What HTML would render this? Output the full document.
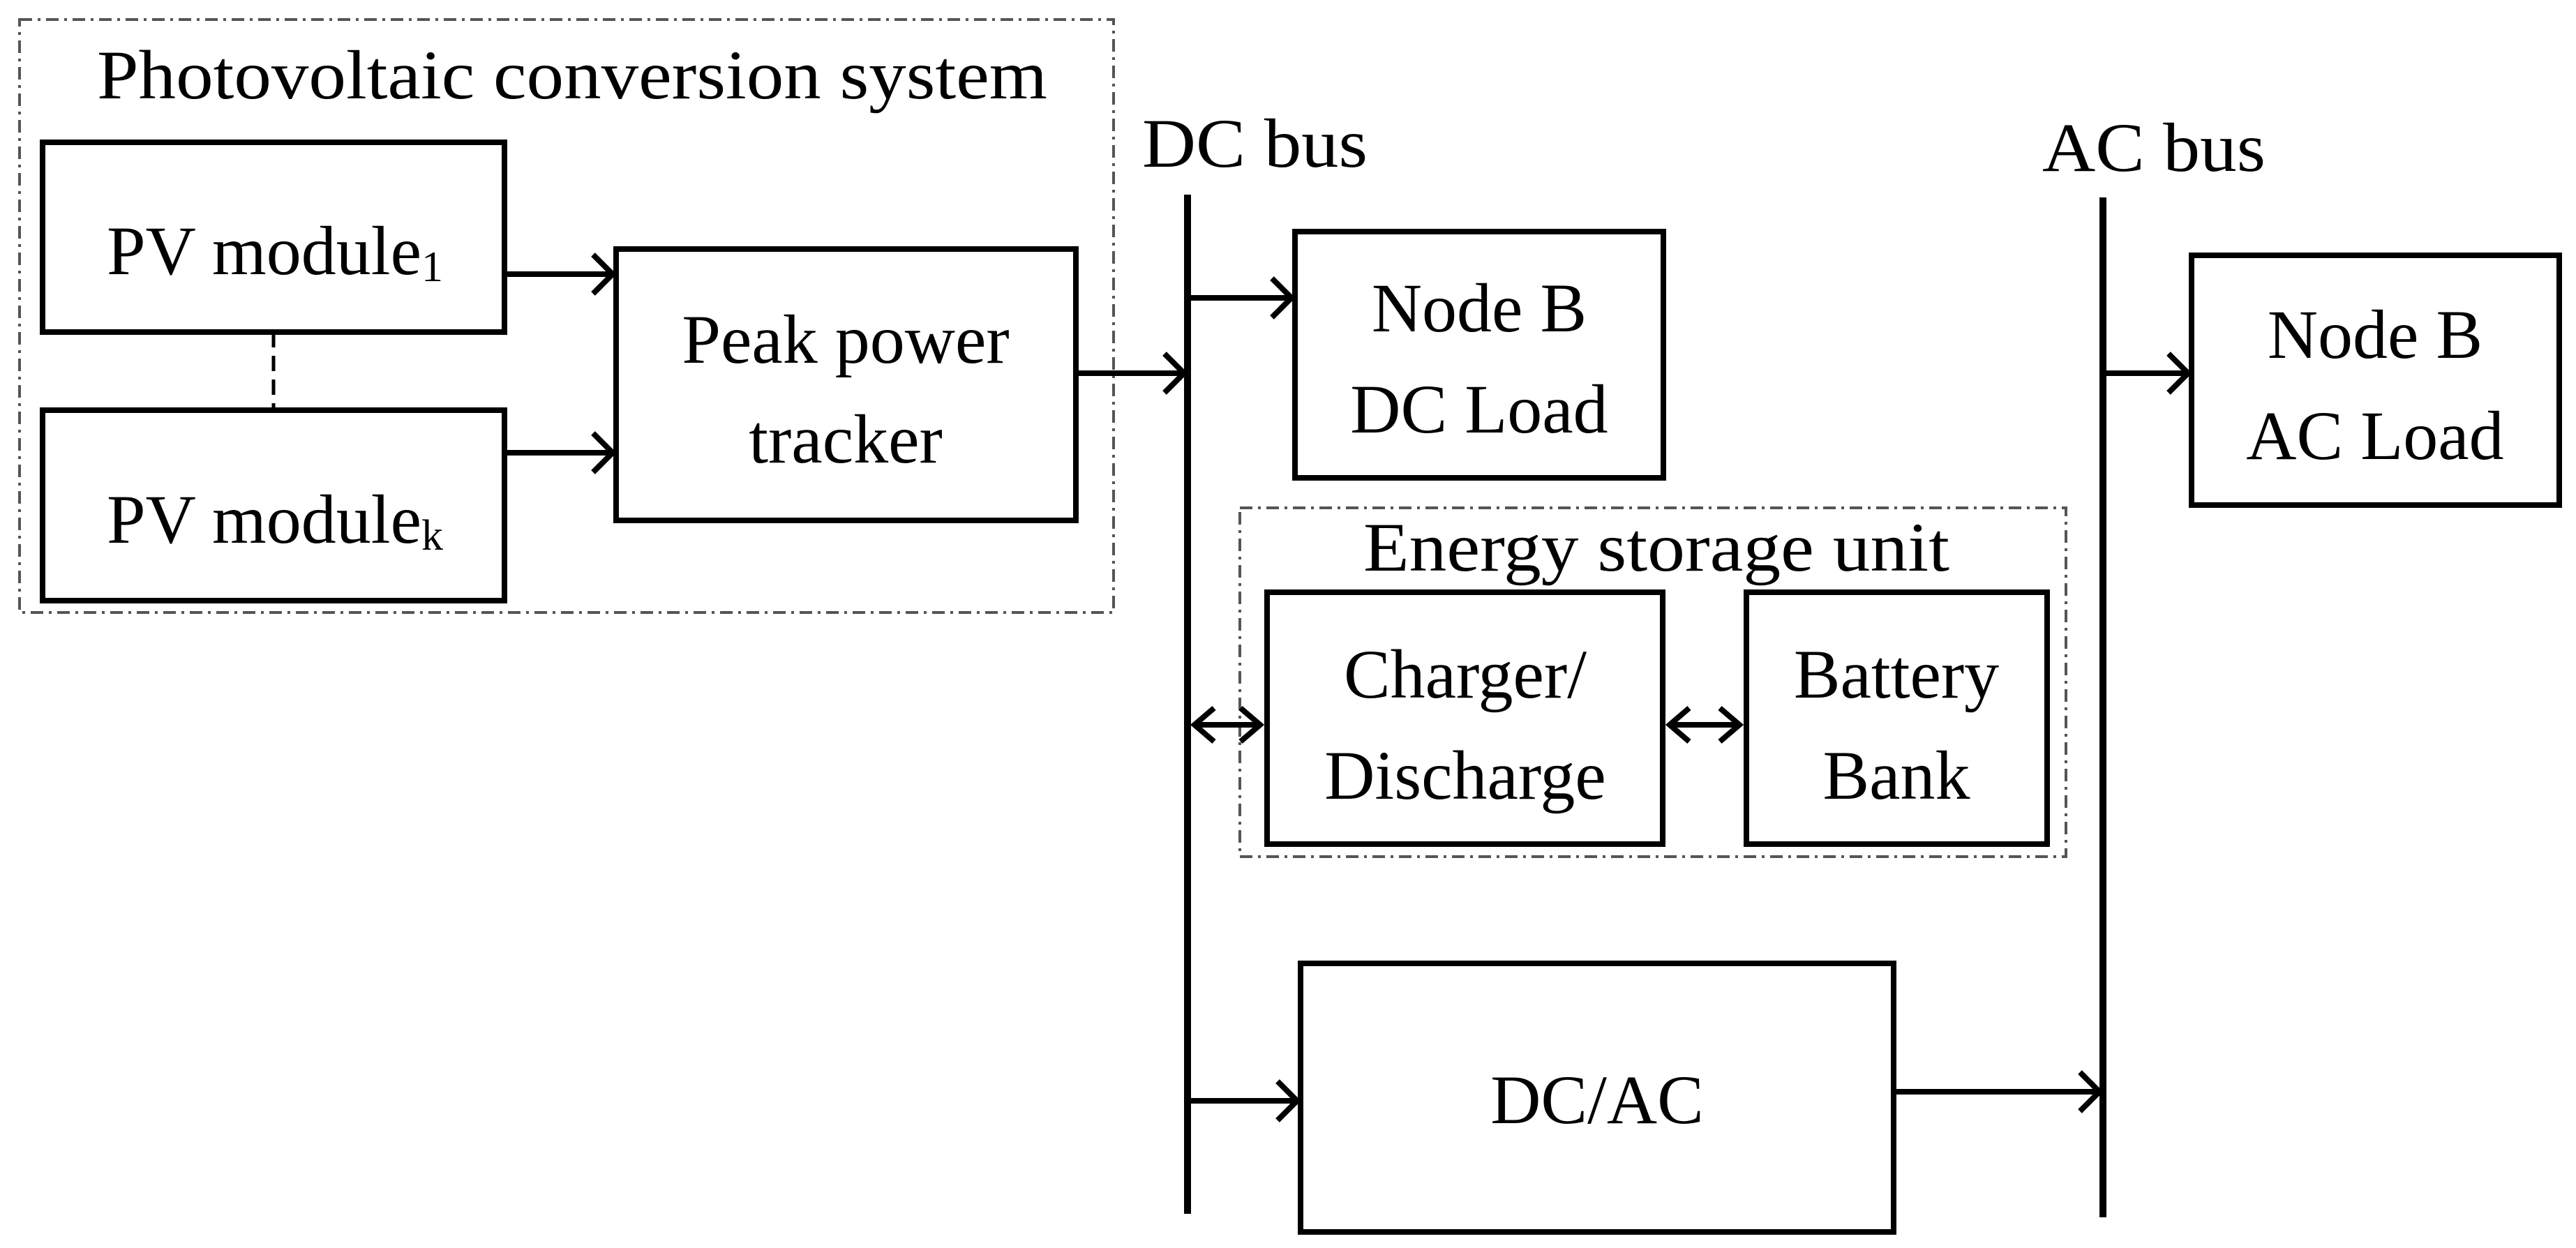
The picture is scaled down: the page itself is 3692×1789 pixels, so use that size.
<!DOCTYPE html>
<html><head><style>html,body{margin:0;padding:0;background:#fff}svg{display:block}</style></head>
<body>
<svg width="3692" height="1789" viewBox="0 0 3692 1789" xmlns="http://www.w3.org/2000/svg" font-family="'Liberation Serif', serif" font-size="100" fill="#000">
<g fill="none" stroke="#555" stroke-width="4" stroke-dasharray="18 8 4 8">
<rect x="28" y="28" width="1568" height="850"/>
<rect x="1777" y="728" width="1184" height="500"/>
</g>
<g fill="none" stroke="#000" stroke-width="8">
<rect x="61" y="204" width="662" height="272"/>
<rect x="61" y="588" width="662" height="273"/>
<rect x="883" y="357" width="659" height="389"/>
<rect x="1856" y="332" width="528" height="353"/>
<rect x="3141" y="366" width="527" height="358"/>
<rect x="1816" y="849" width="567" height="361"/>
<rect x="2503" y="849" width="431" height="361"/>
<rect x="1864" y="1381" width="850" height="385"/>
</g>
<line x1="392" y1="476" x2="392" y2="588" stroke="#000" stroke-width="5" stroke-dasharray="22 12"/>
<g stroke="#000" stroke-width="10">
<line x1="1702" y1="279" x2="1702" y2="1740"/>
<line x1="3014" y1="283" x2="3014" y2="1745"/>
</g>
<g stroke="#000" stroke-width="8" fill="none">
<line x1="727" y1="393" x2="878" y2="393"/>
<line x1="727" y1="649" x2="878" y2="649"/>
<line x1="1546" y1="535" x2="1697" y2="535"/>
<line x1="1707" y1="427" x2="1851" y2="427"/>
<line x1="3019" y1="535" x2="3136" y2="535"/>
<line x1="1707" y1="1578" x2="1859" y2="1578"/>
<line x1="2718" y1="1565" x2="3009" y2="1565"/>
<line x1="1712" y1="1039" x2="1806" y2="1039"/>
<line x1="2393" y1="1039" x2="2493" y2="1039"/>
</g>
<g stroke="#000" stroke-width="8" fill="none">
<path d="M850 365 L878 393 L850 421"/>
<path d="M850 621 L878 649 L850 677"/>
<path d="M1669 507 L1697 535 L1669 563"/>
<path d="M1823 399 L1851 427 L1823 455"/>
<path d="M3108 507 L3136 535 L3108 563"/>
<path d="M1831 1550 L1859 1578 L1831 1606"/>
<path d="M2981 1537 L3009 1565 L2981 1593"/>
<path d="M1778 1015 L1806 1039 L1778 1063"/>
<path d="M1740 1015 L1712 1039 L1740 1063"/>
<path d="M2465 1015 L2493 1039 L2465 1063"/>
<path d="M2421 1015 L2393 1039 L2421 1063"/>
</g>
<text x="139" y="141" textLength="1362" lengthAdjust="spacingAndGlyphs">Photovoltaic conversion system</text>
<text x="1637" y="239" textLength="323" lengthAdjust="spacingAndGlyphs">DC bus</text>
<text x="2927" y="245" textLength="320" lengthAdjust="spacingAndGlyphs">AC bus</text>
<text x="153" y="393">PV module<tspan font-size="62" dy="10">1</tspan></text>
<text x="153" y="778">PV module<tspan font-size="62" dy="10">k</tspan></text>
<text x="1212" y="520" text-anchor="middle">Peak power</text>
<text x="1212" y="663" text-anchor="middle">tracker</text>
<text x="2120" y="475" text-anchor="middle">Node B</text>
<text x="2120" y="620" text-anchor="middle">DC Load</text>
<text x="3404" y="513" text-anchor="middle">Node B</text>
<text x="3404" y="658" text-anchor="middle">AC Load</text>
<text x="1954" y="818" textLength="840" lengthAdjust="spacingAndGlyphs">Energy storage unit</text>
<text x="2100" y="1000" text-anchor="middle">Charger/</text>
<text x="2100" y="1145" text-anchor="middle">Discharge</text>
<text x="2718" y="1000" text-anchor="middle">Battery</text>
<text x="2718" y="1145" text-anchor="middle">Bank</text>
<text x="2289" y="1610" text-anchor="middle">DC/AC</text>
</svg>
</body></html>
